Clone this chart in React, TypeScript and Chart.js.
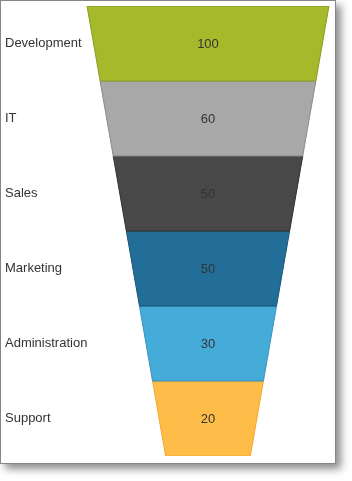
import React, { useEffect, useRef } from "react";
import { Chart, registerables } from "chart.js";

Chart.register(...registerables);

const categories = ["Development", "IT", "Sales", "Marketing", "Administration", "Support"];
const values = [100, 60, 50, 50, 30, 20];
const fillColors = ["#A5B92A", "#A8A8A8", "#484848", "#236E99", "#45ABD8", "#FDBD48"];
const edgeColors = ["#8A9C1E", "#8A8A8A", "#303030", "#1A5577", "#3A92BC", "#F3A82A"];

const neckRatio = 0.35;

export default function App() {
  const ref = useRef<HTMLCanvasElement>(null);

  useEffect(() => {
    if (!ref.current) return;
    const n = categories.length;
    const hw = (i: number) => 1 - ((1 - neckRatio) * i) / n;

    const datasets = categories.map((c, i) => ({
      label: c,
      data: [
        { x: -hw(i), y: i },
        { x: hw(i), y: i },
        { x: hw(i + 1), y: i + 1 },
        { x: -hw(i + 1), y: i + 1 },
        { x: -hw(i), y: i },
      ],
      showLine: true,
      fill: "shape",
      backgroundColor: fillColors[i],
      borderColor: edgeColors[i],
      borderWidth: 1,
      pointRadius: 0,
      pointHoverRadius: 0,
      tension: 0,
      xAxisID: "x",
      yAxisID: "y",
    }));

    const valueLabels = {
      id: "valueLabels",
      afterDatasetsDraw(chart: any) {
        const { ctx, scales } = chart;
        ctx.save();
        ctx.fillStyle = "#333333";
        ctx.font = "13px Arial";
        ctx.textAlign = "center";
        ctx.textBaseline = "middle";
        values.forEach((v, i) => {
          const x = scales.x.getPixelForValue(0);
          const y = scales.y.getPixelForValue(i + 0.5);
          ctx.fillText(String(v), x, y + 1);
        });
        ctx.restore();
      },
    };

    const chart = new Chart(ref.current, {
      type: "scatter",
      data: { labels: categories, datasets: datasets as any },
      options: {
        responsive: false,
        animation: false,
        events: [],
        layout: { padding: { top: 5, bottom: 7, left: 4, right: 0 } },
        plugins: {
          legend: { display: false },
          tooltip: { enabled: false },
        },
        scales: {
          x: { type: "linear", display: false, min: -1.678, max: 1.05 },
          y: { type: "linear", display: false, reverse: true, min: 0, max: 6 },
          yc: {
            type: "category",
            labels: categories,
            position: "left",
            offset: true,
            grid: { display: false },
            border: { display: false },
            ticks: {
              mirror: true,
              crossAlign: "near",
              color: "#333333",
              padding: 0,
              font: { family: "Arial", size: 13 },
            },
            afterFit: (s: any) => {
              s.width = 0;
              s.paddingTop = 0;
              s.paddingBottom = 0;
            },
          },
        } as any,
      },
      plugins: [valueLabels],
    });
    return () => chart.destroy();
  }, []);

  return (
    <div
      style={{
        position: "absolute",
        left: 0,
        top: 0,
        width: 334,
        height: 462,
        border: "1px solid #858585",
        boxShadow: "5px 5px 8px rgba(0,0,0,0.45)",
        background: "#ffffff",
      }}
    >
      <canvas ref={ref} width={334} height={462} style={{ display: "block" }} />
    </div>
  );
}
